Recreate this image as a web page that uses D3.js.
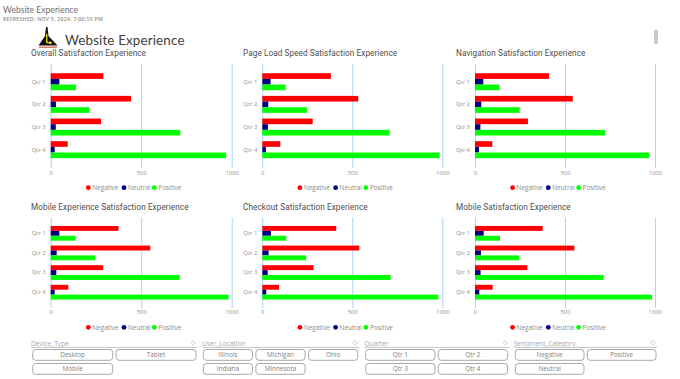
<!DOCTYPE html>
<html>
<head>
<meta charset="utf-8">
<script src="https://cdn.jsdelivr.net/npm/d3@7"></script>
<style>
  html, body { margin: 0; padding: 0; background: #fff; overflow: hidden; }
  text { font-family: "Open Sans", sans-serif; }
  .panel-title { font-family: "Roboto", sans-serif; font-size: 8.2px; fill: #4d4d4d; letter-spacing: 0.08px; }
  .axis text { font-family: "Open Sans", sans-serif; font-size: 5.9px; fill: #909090; }
  .axis path { display: none; }
  .legend text { font-size: 6.4px; fill: #8a8a8a; }
  .slicer-head { font-size: 6.6px; fill: #a6a6a6; }
  .slicer-btn { font-size: 6.4px; fill: #808080; text-anchor: middle; }
  .page-title { font-family: "Lato", sans-serif; }
</style>
</head>
<body>
<div id="chart"></div>
<script>
const quarters = ["Qtr 1", "Qtr 2", "Qtr 3", "Qtr 4"];
const sentiments = ["Negative", "Neutral", "Positive"];
const sentimentColors = ["#ff0000", "#000080", "#00ff00"];
const xTicks = [0, 500, 1000];

const panelTitles = [
  "Overall Satisfaction Experience",
  "Page Load Speed Satisfaction Experience",
  "Navigation Satisfaction Experience",
  "Mobile Experience Satisfaction Experience",
  "Checkout Satisfaction Experience",
  "Mobile Satisfaction Experience"
];

// one list per sentiment, one row per panel, Qtr 1..4
const negativeValues = [
  [291, 444, 278, 94],
  [381, 533, 280, 100],
  [411, 543, 294, 96],
  [375, 550, 290, 97],
  [411, 539, 285, 93],
  [376, 552, 291, 98]
];
const neutralValues = [
  [48, 29, 28, 22],
  [46, 33, 31, 20],
  [46, 35, 30, 22],
  [48, 33, 31, 22],
  [48, 35, 30, 22],
  [48, 33, 31, 24]
];
const positiveValues = [
  [140, 214, 716, 969],
  [130, 248, 707, 985],
  [137, 248, 722, 969],
  [138, 246, 713, 983],
  [133, 243, 713, 978],
  [139, 246, 715, 983]
];
const seriesValues = [negativeValues, neutralValues, positiveValues];

const slicerNames = ["Device_Type", "User_Location", "Quarter", "Sentiment_Category"];
const deviceOptions = ["Desktop", "Tablet", "Mobile"];
const locationOptions = ["Illinois", "Michigan", "Ohio", "Indiana", "Minnesota"];
const quarterOptions = ["Qtr 1", "Qtr 2", "Qtr 3", "Qtr 4"];
const sentimentOptions = ["Negative", "Positive", "Neutral"];
const slicerOptions = [deviceOptions, locationOptions, quarterOptions, sentimentOptions];

const width = 680, height = 379;
const svg = d3.select("#chart").append("svg")
  .attr("width", width)
  .attr("height", height)
  .style("display", "block");

// page header
svg.append("text").attr("class", "page-title").attr("x", 3).attr("y", 12.6)
  .style("font-size", "8.6px").attr("fill", "#707070")
  .text("Website Experience");
svg.append("text").attr("x", 3).attr("y", 21)
  .style("font-size", "5.2px").style("font-weight", 600).style("letter-spacing", "0.25px").attr("fill", "#8c8c8c")
  .text("REFRESHED: NOV 5, 2024, 7:00:55 PM");
svg.append("text").attr("class", "page-title").attr("x", 65).attr("y", 45)
  .style("font-size", "13.4px").style("letter-spacing", "0.15px").attr("fill", "#404040")
  .text("Website Experience");

// logo
const logo = svg.append("g").attr("transform", "translate(38,27)");
logo.append("path").attr("d", "M0.5,18.5 L7,9 L8,0 L9.5,0 L10.5,9 L19.5,18.5 Z").attr("fill", "#111");
logo.append("path").attr("d", "M8,7 L9.5,7 L9.5,15 L11,15 L11,16.2 L8,16.2 Z").attr("fill", "#d9c21a");
logo.append("rect").attr("x", 11).attr("y", 14.6).attr("width", 2.6).attr("height", 2.4).attr("fill", "#e8d422");
logo.append("rect").attr("x", 1).attr("y", 19.5).attr("width", 18).attr("height", 1.4).attr("fill", "#d8705a");

// scrollbar thumb
svg.append("rect").attr("x", 654).attr("y", 30).attr("width", 4).attr("height", 14).attr("fill", "#c8c8c8");

const colX = [[50.7, 231.7], [262.3, 442.3], [475, 655]];
const titleX = [31, 243, 456];
const rows = [
  { titleY: 56.3, gridTop: 64, gridBottom: 168, bandTop: 70.4, bandBottom: 161, labelY: 175.5, legendY: 187.7 },
  { titleY: 210.3, gridTop: 217.7, gridBottom: 308, bandTop: 223.5, bandBottom: 302, labelY: 315, legendY: 327.3 }
];
const legendOffsets = [37.6, 73.3, 103.6];

panelTitles.forEach((title, p) => {
  const col = p % 3, row = rows[Math.floor(p / 3)];
  const g = svg.append("g");

  g.append("text").attr("class", "panel-title")
    .attr("x", titleX[col]).attr("y", row.titleY).text(title);

  const x = d3.scaleLinear().domain([0, 1000]).range(colX[col]);
  const y = d3.scaleBand().domain(quarters).range([row.bandTop, row.bandBottom]).paddingInner(0.25).paddingOuter(0.125);
  const inner = d3.scaleBand().domain(sentiments).range([0, y.bandwidth()]);

  const xAxis = g.append("g").attr("class", "axis")
    .attr("transform", `translate(0,${row.gridBottom})`)
    .call(d3.axisBottom(x).tickValues(xTicks).tickFormat(d3.format("d"))
      .tickSize(-(row.gridBottom - row.gridTop)).tickPadding(row.labelY - row.gridBottom - 5));
  xAxis.selectAll("line").attr("stroke", "#aed2fb").attr("stroke-width", 1);

  g.append("g").attr("class", "axis")
    .attr("transform", `translate(${colX[col][0]},0)`)
    .call(d3.axisLeft(y).tickSize(0).tickPadding(5));

  sentiments.forEach((s, si) => {
    g.selectAll(null).data(seriesValues[si][p]).enter().append("rect")
      .attr("x", x(0))
      .attr("y", (d, i) => y(quarters[i]) + inner(s))
      .attr("width", d => x(d) - x(0))
      .attr("height", inner.bandwidth())
      .attr("fill", sentimentColors[si]);
  });

  // legend sits centred under the plot
  const legend = g.append("g").attr("class", "legend");
  sentiments.forEach((s, si) => {
    const lx = colX[col][0] + legendOffsets[si];
    legend.append("circle").attr("cx", lx).attr("cy", row.legendY).attr("r", 2.4).attr("fill", sentimentColors[si]);
    legend.append("text").attr("x", lx + 4).attr("y", row.legendY + 2.3).text(s);
  });
});

// slicers along the bottom
const slicerLayouts = [
  { x0: 31, x1: 197, cols: 2, btnX: 32.7, btnW: 80, gap: 3.3 },
  { x0: 202, x1: 359, cols: 3, btnX: 203.3, btnW: 49.2, gap: 3.4 },
  { x0: 364.3, x1: 509, cols: 2, btnX: 365.7, btnW: 69.3, gap: 3.3 },
  { x0: 513.7, x1: 657, cols: 2, btnX: 515.3, btnW: 68.7, gap: 3.3 }
];

slicerNames.forEach((name, s) => {
  const l = slicerLayouts[s];
  const g = svg.append("g");
  g.append("text").attr("class", "slicer-head").attr("x", l.x0).attr("y", 345.5).text(name);
  g.append("line").attr("x1", l.x0).attr("x2", l.x1).attr("y1", 347.4).attr("y2", 347.4)
    .attr("stroke", "#c4c4c4").attr("stroke-width", 1);
  // eraser icon
  g.append("path")
    .attr("transform", `translate(${l.x1 - 4},343)`)
    .attr("d", "M-2.4,0 L0,-2.4 L2.4,0 L0,2.4 Z")
    .attr("fill", "none").attr("stroke", "#bbb").attr("stroke-width", 0.7);

  slicerOptions[s].forEach((opt, i) => {
    const c = i % l.cols, r = Math.floor(i / l.cols);
    const bx = l.btnX + c * (l.btnW + l.gap);
    const by = 349.5 + r * 14;
    g.append("rect").attr("x", bx).attr("y", by).attr("width", l.btnW).attr("height", 10.8)
      .attr("rx", 3).attr("fill", "#fff").attr("stroke", "#a8a8a8").attr("stroke-width", 1);
    g.append("text").attr("class", "slicer-btn").attr("x", bx + l.btnW / 2).attr("y", by + 7.7).text(opt);
  });
});
</script>
</body>
</html>
